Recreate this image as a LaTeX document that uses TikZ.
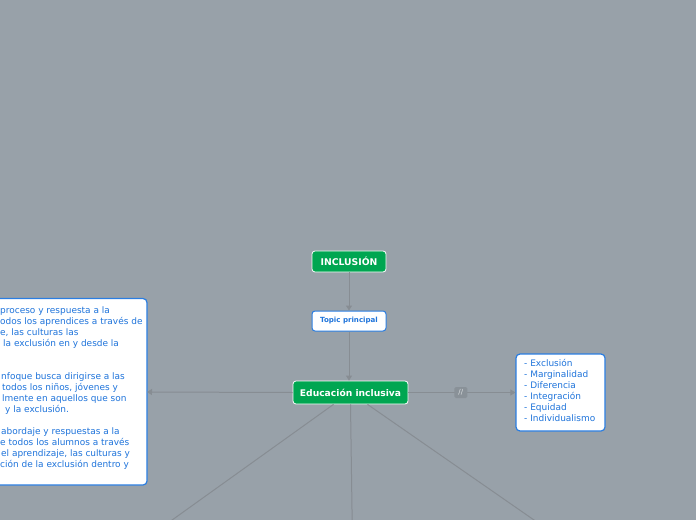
\documentclass[tikz,border=0pt]{standalone}
\usepackage{fontspec}
\setmainfont{DejaVu Sans}
\usetikzlibrary{arrows.meta}
\definecolor{bg}{HTML}{98A1A9}
\definecolor{mmgreen}{HTML}{00A651}
\definecolor{mmblue}{HTML}{2A7DE1}
\definecolor{mmtext}{HTML}{1F74DB}
\definecolor{conn}{HTML}{878D93}
\tikzset{
  greenbox/.style={draw=white, line width=0.8bp, fill=mmgreen, rounded corners=3bp, text=white, font=\fontsize{9.3}{10}\selectfont\bfseries, inner sep=0pt, minimum height=21bp},
  topicbox/.style={draw=mmblue, line width=1bp, fill=white, rounded corners=3bp, text=mmtext, font=\fontsize{7.1}{8}\selectfont\bfseries, inner sep=0pt, minimum height=20bp},
  notebox/.style={draw=mmblue, line width=1.2bp, fill=white, rounded corners=4bp},
  notetext/.style={text=mmtext, font=\fontsize{9}{11}\selectfont, inner sep=0pt, anchor=base west},
  link/.style={draw=conn, line width=1bp},
  arr/.style={link, -{Triangle[width=6bp,length=5bp]}},
  slash/.style={fill=black!10!bg, text=white!70!bg, rounded corners=1.5bp, font=\fontsize{7}{8}\selectfont, inner sep=1.5bp, minimum width=13bp, minimum height=11bp}
}
\begin{document}
\begin{tikzpicture}[x=1bp,y=-1bp]
\useasboundingbox (0,0) rectangle (696,520);
\fill[bg] (0,0) rectangle (696,520);
\clip (0,0) rectangle (696,520);

% nodes
\node[greenbox, minimum width=74bp] (incl) at (349,261.5) {INCLUSIÓN};
\node[topicbox, minimum width=74bp] (topic) at (349,321) {Topic principal};
\node[greenbox, minimum width=115bp, minimum height=23bp, font=\fontsize{9.2}{10}\selectfont\bfseries] (edu) at (350.5,392.5) {Educación inclusiva};

% right note
\node[notebox, minimum width=89bp, minimum height=77bp] (rbox) at (560.5,392.5) {};
\node[text=mmtext, font=\fontsize{9}{11}\selectfont, align=left, inner sep=0pt, anchor=north west] (rtext) at (524,359) {- Exclusión\\- Marginalidad\\- Diferencia\\- Integración\\- Equidad\\- Individualismo};

% left note
\path[notebox] (-20,298.5) rectangle (147,485);
\coordinate (lboxE) at (147,392);
\node[notetext] (l1) at (0,313.5) {proceso y respuesta a la};
\node[notetext] (l2) at (0,324.5) {odos los aprendices a través de};
\node[notetext] (l3) at (0,335.5) {e, las culturas las};
\node[notetext] (l4) at (3,346.5) {la exclusión en y desde la};
\node[notetext] (l5) at (1,379.5) {nfoque busca dirigirse a las};
\node[notetext] (l6) at (2,390.5) {todos los niños, jóvenes y};
\node[notetext] (l7) at (2,401.5) {lmente en aquellos que son};
\node[notetext] (l8) at (5,412.5) {y la exclusión.};
\node[notetext] (l9) at (1,434.5) {abordaje y respuestas a la};
\node[notetext] (l10) at (0,445.5) {e todos los alumnos a través};
\node[notetext] (l11) at (1,456.5) {el aprendizaje, las culturas y};
\node[notetext] (l12) at (0,467.5) {ción de la exclusión dentro y};

% connectors
\draw[arr] (incl.south) -- (topic.north);
\draw[arr] (topic.south) -- (topic.south |- edu.north);
\draw[arr] (edu.west) -- (lboxE);
\draw[arr] (edu.east) -- (rbox.west) node[slash, pos=0.49] (sl) {//};

\coordinate (d1) at (140,543);
\coordinate (d2) at (352.5,545);
\coordinate (d3) at (570,545);
\draw[link] ([xshift=-17bp]edu.south) -- (d1);
\draw[link] (edu.south) -- (d2);
\draw[link] ([xshift=17bp]edu.south) -- (d3);
\end{tikzpicture}
\end{document}
